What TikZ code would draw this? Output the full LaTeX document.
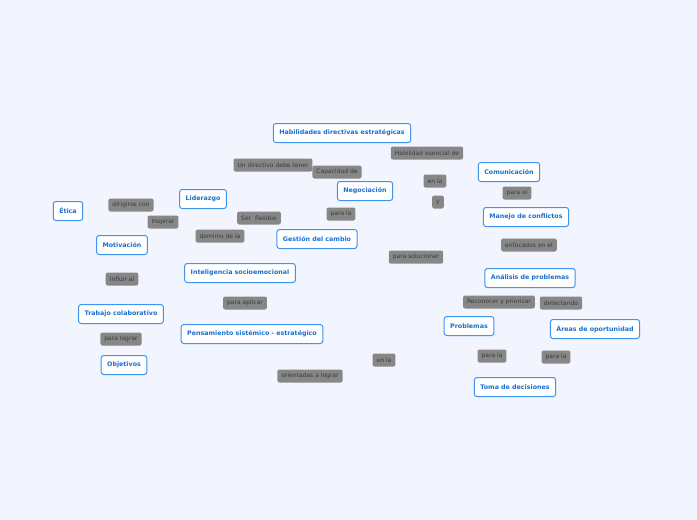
\documentclass[tikz,border=0pt]{standalone}
\usepackage{fontspec}
\setmainfont{DejaVu Sans}
\usetikzlibrary{backgrounds,arrows.meta}
\definecolor{bg}{HTML}{F2F5FE}
\definecolor{nb}{HTML}{3D95F0}
\definecolor{nt}{HTML}{1A6FCF}
\definecolor{lf}{HTML}{878787}
\definecolor{lt}{HTML}{3A3A3A}
\definecolor{ec}{HTML}{8A8A8A}
\tikzset{
 concept/.style={draw=nb,fill=white,rounded corners=2.5pt,line width=1pt,font=\fontsize{6.3}{7}\selectfont\bfseries,text=nt,inner xsep=6pt,minimum height=19pt},
 lab/.style={fill=lf,rounded corners=2pt,font=\fontsize{6}{7}\selectfont,text=lt,inner xsep=4pt,minimum height=13pt},
 ln/.style={draw=ec,line width=1.1pt},
 ar/.style={draw=ec,line width=1.1pt,-{Triangle[length=5pt,width=6pt]}}
}
\begin{document}
\begin{tikzpicture}[x=1pt,y=-1pt]
\fill[bg] (0,0) rectangle (697,520);
\useasboundingbox (0,0) rectangle (697,520);
% concepts
\node[concept] (hab) at (342,133) {Habilidades directivas estratégicas};
\node[concept] (lid) at (203,199) {Liderazgo};
\node[concept] (eti) at (68,211) {Ética};
\node[concept] (mot) at (122,245) {Motivación};
\node[concept] (int) at (240,273) {Inteligencia socioemocional};
\node[concept] (ges) at (317,239) {Gestión del cambio};
\node[concept] (neg) at (365,191) {Negociación};
\node[concept] (com) at (509,172) {Comunicación};
\node[concept] (man) at (526,217) {Manejo de conflictos};
\node[concept] (ana) at (530,278) {Análisis de problemas};
\node[concept] (pro) at (469,326) {Problemas};
\node[concept] (are) at (595,329) {Áreas de oportunidad};
\node[concept] (tom) at (515,387) {Toma de decisiones};
\node[concept] (tra) at (121,314) {Trabajo colaborativo};
\node[concept] (pen) at (252,334) {Pensamiento sistémico - estratégico};
\node[concept] (obj) at (124,365) {Objetivos};
% labels
\node[lab] (l1) at (273,165) {Un directivo debe tener};
\node[lab] (l2) at (337,172) {Capacidad de};
\node[lab] (l3) at (427,153) {Habilidad esencial de};
\node[lab] (l4) at (435,181) {en la};
\node[lab] (l5) at (517,193) {para el};
\node[lab] (l6) at (438,202) {y};
\node[lab] (l7) at (341,214) {para la};
\node[lab] (l8) at (259,218) {Ser\ \ flexible};
\node[lab] (l9) at (131,205) {dirigirse con};
\node[lab] (l10) at (163,222) {Inspirar};
\node[lab] (l11) at (220,236) {dominio de la};
\node[lab] (l12) at (416,257) {para solucionar};
\node[lab] (l13) at (529,245) {enfocados en el};
\node[lab] (l15) at (561,303) {detectando};
\node[lab] (l14) at (499,302) {Reconocer y priorizar};
\node[lab] (l16) at (122,279) {Influir al};
\node[lab] (l17) at (245,303) {para aplicar};
\node[lab] (l18) at (121,339) {para lograr};
\node[lab] (l19) at (384,360) {en la};
\node[lab] (l20) at (310,376) {orientadas a lograr};
\node[lab] (l21) at (492,356) {para la};
\node[lab] (l22) at (556,357) {para la};
\begin{scope}[on background layer]
\draw[ln] (hab.south west)++(56,0) -- (l1); \draw[ar] (l1) -- (lid.north east);
\draw[ln] (345,143) to[out=-100,in=80] (l2.center); \draw[ar] (l2.center) to[out=-100,in=90] (330,196);
\draw[ln] (hab.south east)++(-30,0) -- (l3); \draw[ar] (l3) -- (com.north west);
\draw[ln] (com) -- (l4); \draw[ar] (l4) -- (neg.east);
\draw[ln] (com) -- (l5); \draw[ar] (l5) -- (man.north);
\draw[ln] (man) -- (l6); \draw[ar] (l6) -- (neg.east);
\draw[ln] (neg) -- (l7); \draw[ar] (l7) -- (ges.north);
\draw[ln] (lid) -- (l8); \draw[ar] (l8) -- (ges.north west);
\draw[ln] (lid) -- (l9); \draw[ar] (l9) -- (eti.east);
\draw[ln] (lid) -- (l10); \draw[ar] (l10) -- (mot.north east);
\draw[ln] (lid) -- (l11); \draw[ar] (l11) -- (int.north);
\draw[ln] (neg) -- (l12); \draw[ar] (l12) -- (pro.north west);
\draw[ln] (man) -- (l13); \draw[ar] (l13) -- (ana.north);
\draw[ln] (ana) -- (l14); \draw[ar] (l14) -- (pro.north east);
\draw[ln] (ana) -- (l15); \draw[ar] (l15) -- (are.north);
\draw[ln] (mot) -- (l16); \draw[ar] (l16) -- (tra.north);
\draw[ln] (int) -- (l17); \draw[ar] (l17) -- (pen.north);
\draw[ln] (tra) -- (l18); \draw[ar] (l18) -- (obj.north);
\draw[ln] (pen) -- (l19); \draw[ar] (l19) -- (tom.west);
\draw[ln] (tom.west) -- (l20); \draw[ar] (l20) -- (obj.east);
\draw[ln] (pro) -- (l21); \draw[ar] (l21) -- (tom.north);
\draw[ln] (are) -- (l22); \draw[ar] (l22) -- (tom.north east);
\end{scope}
\end{tikzpicture}
\end{document}
